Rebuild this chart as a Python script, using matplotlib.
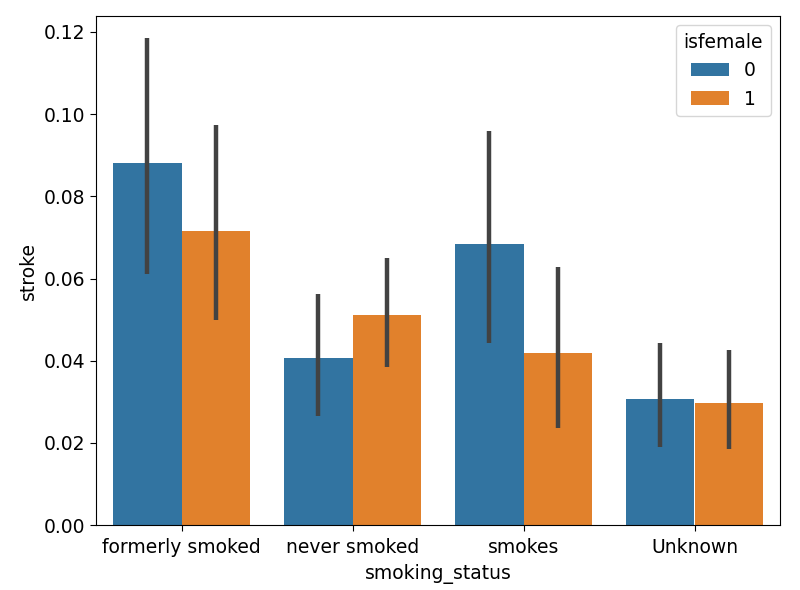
import numpy as np
import matplotlib
matplotlib.use('Agg')
from matplotlib import pyplot as plt

# data
categories = ['formerly smoked', 'never smoked', 'smokes', 'Unknown']
hue_levels = ['0', '1']
male_mean = [0.0882, 0.0407, 0.0685, 0.0308]
male_lo = [0.0610, 0.0265, 0.0442, 0.0191]
male_hi = [0.1185, 0.0563, 0.0960, 0.0442]
female_mean = [0.0716, 0.0512, 0.0420, 0.0297]
female_lo = [0.0499, 0.0385, 0.0236, 0.0184]
female_hi = [0.0973, 0.0649, 0.0628, 0.0425]

colors = ['#3274a1', '#e1812c']
fs = 13.5

fig = plt.figure(figsize=(8, 5.9), dpi=100)
ax = fig.add_axes([0.12, 0.11, 0.855, 0.863])

x = np.arange(len(categories))
w = 0.4
series = [(male_mean, male_lo, male_hi), (female_mean, female_lo, female_hi)]
for i, (m, lo, hi) in enumerate(series):
    pos = x + (i - 0.5) * w
    ax.bar(pos, m, width=w, color=colors[i], label=hue_levels[i])
    ax.vlines(pos, lo, hi, color='#424242', linewidth=3.2)

ax.set_xticks(x)
ax.set_xticklabels(categories, fontsize=fs)
ax.tick_params(axis='y', labelsize=fs)
ax.tick_params(length=4.5)
ax.tick_params(axis='x', pad=5)
ax.set_xlim(-0.5, len(categories) - 0.5)
ax.set_ylim(0, 0.1239)
ax.set_yticks([0, 0.02, 0.04, 0.06, 0.08, 0.10, 0.12])
ax.set_yticklabels(['0.00', '0.02', '0.04', '0.06', '0.08', '0.10', '0.12'])
ax.set_xlabel('smoking_status', fontsize=fs, labelpad=5)
ax.set_ylabel('stroke', fontsize=fs)
leg = ax.legend(title='isfemale', loc='upper right', fontsize=fs, title_fontsize=fs)

fig.savefig('out.png')
